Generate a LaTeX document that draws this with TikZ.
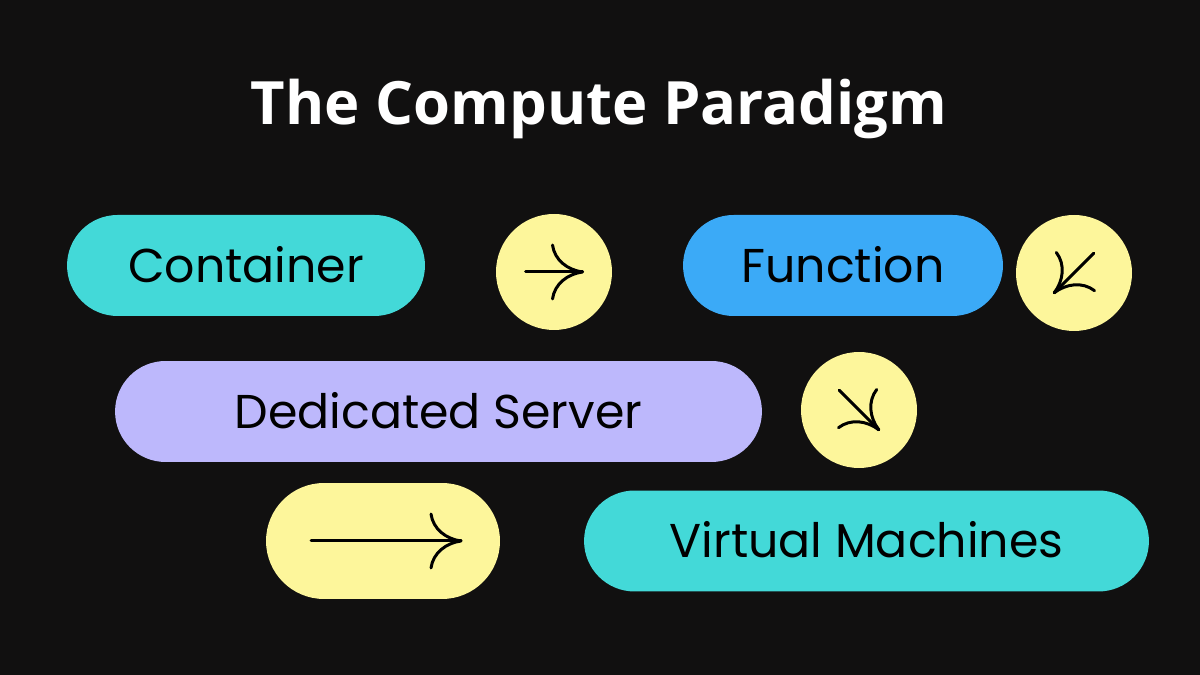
\documentclass[tikz,border=0pt]{standalone}
\usepackage{fontspec}
\setmainfont{Poppins}
\newfontfamily\titlefont{Open Sans}
\usepackage{xcolor}
\usepackage{tikz}
\usetikzlibrary{positioning, calc}

\definecolor{bgdark}{HTML}{111010}
\definecolor{turq}{HTML}{43D9D8}
\definecolor{skyblue}{HTML}{3BAAF7}
\definecolor{lavender}{HTML}{BDB8FC}
\definecolor{paleyellow}{HTML}{FDF69B}

\tikzset{
    pics/bentarrow/.style={code={
        \draw[arrowline] (-#1,0) -- (#1,0);
        \draw[arrowline] (#1-30,27) .. controls (#1-28,12) and (#1-15,2) .. (#1,0)
                         .. controls (#1-15,-2) and (#1-28,-12) .. (#1-30,-27);
    }}
}

\begin{document}
\begin{tikzpicture}[
    x=0.02cm, y=0.02cm,
    pill/.style={
        rectangle,
        rounded corners=1.01cm,
        minimum height=2.02cm,
        inner sep=0pt,
        font=\fontsize{27}{32}\selectfont,
        text height=18.9pt,
        text depth=0pt
    },
    bubble/.style={
        circle,
        fill=paleyellow,
        minimum size=2.32cm,
        inner sep=0pt
    },
    arrowline/.style={line width=1.7pt, line cap=round, line join=round}
]

\fill[bgdark] (0,0) rectangle (1200,675);
\useasboundingbox (0,0) rectangle (1200,675);

\node[anchor=base, text=white, font=\titlefont\bfseries\fontsize{34}{40}\selectfont] (title) at (599,550) {The Compute Paradigm};

% pills
\node[pill, fill=turq, minimum width=7.16cm] (container) at (246,409.5) {Container};
\node[pill, fill=skyblue, minimum width=6.4cm] (function) at (843,409.5) {Function};
\node[pill, fill=lavender, minimum width=12.94cm] (dedicated) at (438.5,263.5) {Dedicated Server};
\node[pill, fill=turq, minimum width=11.3cm] (vms) at (866.5,134) {Virtual Machines};
\node[pill, fill=paleyellow, minimum width=4.68cm, minimum height=2.32cm, rounded corners=1.16cm] (longarrow) at (383,134) {};

% arrow bubbles
\node[bubble] (right) at (554,403) {};
\node[bubble] (downleft) at (1074,402) {};
\node[bubble] (downright) at (859,265) {};

\pic at (right) {bentarrow=28.5};
\pic[rotate=225] at (downleft) {bentarrow=28};
\pic[rotate=-45] at (downright) {bentarrow=28};
\pic at ($(longarrow)+(3,0)$) {bentarrow=75};

\end{tikzpicture}
\end{document}
